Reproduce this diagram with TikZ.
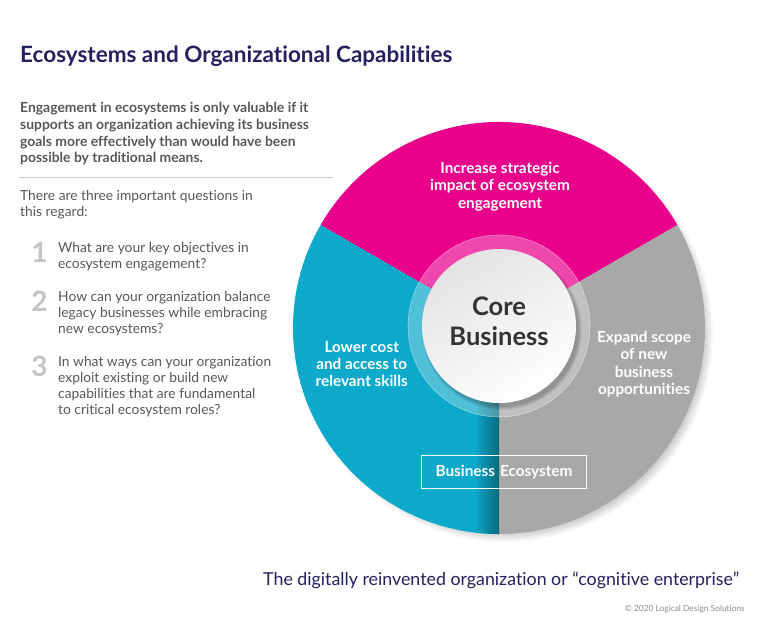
\documentclass[tikz,border=0pt]{standalone}
\usepackage{fontspec}
\setmainfont{Lato}[Ligatures={NoCommon}]
\usetikzlibrary{positioning}
\definecolor{titlenavy}{RGB}{36,33,96}
\definecolor{bodygrey}{RGB}{88,88,88}
\definecolor{numgrey}{RGB}{196,196,196}
\definecolor{rulegrey}{RGB}{204,204,204}
\definecolor{segmagenta}{RGB}{233,0,139}
\definecolor{segcyan}{RGB}{12,169,202}
\definecolor{seggrey}{RGB}{168,168,168}
\definecolor{coreink}{RGB}{51,51,51}
\definecolor{creditgrey}{RGB}{140,140,140}
\tikzset{
  heading/.style={anchor=base west,inner sep=0pt,text=titlenavy,
                  font=\fontsize{22.5}{26}\selectfont\bfseries},
  lead/.style={anchor=north west,inner sep=0pt,align=left,text=bodygrey,
               font=\fontsize{13.9}{16.6}\selectfont\bfseries},
  intro/.style={lead,font=\fontsize{13.8}{16.2}\selectfont},
  question/.style={intro},
  qnum/.style={anchor=base,inner sep=0pt,text=numgrey,
               font=\fontsize{28}{30}\selectfont\bfseries},
  segtext/.style={anchor=north,inner sep=0pt,align=center,text=white,
                  font=\fontsize{15.3}{17.3}\selectfont\bfseries},
  corebox/.style={circle,minimum size=154pt,inner sep=0pt,
                  shading=axis,top color=black!11,bottom color=white,shading angle=30},
  corelabel/.style={inner sep=0pt,align=center,text=coreink,
                    font=\fontsize{25.5}{30}\selectfont\bfseries},
  ecolabel/.style={draw=white,line width=1pt,minimum width=165pt,minimum height=33pt,
                   inner sep=0pt,text=white,font=\fontsize{15.3}{16}\selectfont\bfseries},
  tagline/.style={anchor=base west,inner sep=0pt,text=titlenavy,
                  font=\fontsize{17.8}{20}\selectfont},
  credit/.style={anchor=base east,inner sep=0pt,text=creditgrey,
                 font=\fontsize{8.4}{10}\selectfont},
}
\begin{document}
\begin{tikzpicture}[x=1pt,y=-1pt]
  \path[use as bounding box,fill=white] (0,0) rectangle (779,638);

  % left column
  \node[heading] (title) at (20,62.5) {Ecosystems and Organizational Capabilities};
  \node[lead] (lead) at (20,102.3)
    {Engagement in ecosystems is only valuable if it\\
     supports an organization achieving its business\\
     goals more effectively than would have been\\
     possible by traditional means.};
  \draw[rulegrey,line width=0.8pt] (19,177) -- (333,177);
  \node[intro] (intro) at (20,190)
    {There are three important questions in\\this regard:};
  \foreach \n/\yy in {1/262.7,2/311.7,3/376.7}{
    \node[qnum] (n\n) at (39.5,\yy) {\n};
  }
  \node[question] (q1) at (58,241.7)
    {What are your key objectives in\\ecosystem engagement?};
  \node[question] (q2) at (58,290.7)
    {How can your organization balance\\legacy businesses while embracing\\new ecosystems?};
  \node[question] (q3) at (58,356)
    {In what ways can your organization\\exploit existing or build new\\
     capabilities that are fundamental\\to critical ecosystem roles?};

  % wheel
  \coordinate (hub) at (499,328);
  \foreach \k in {0,...,9}{
    \fill[black,opacity=0.025] (505,334) circle ({208-\k*1.2});
  }
  \fill[segmagenta] (hub) -- ++(-30:206) arc[start angle=-30,end angle=-150,radius=206] -- cycle;
  \fill[segcyan] (hub) -- ++(-150:206) arc[start angle=-150,end angle=-270,radius=206] -- cycle;
  \fill[seggrey] (hub) -- ++(90:206) arc[start angle=90,end angle=-30,radius=206] -- cycle;
  \begin{scope}
    \clip (hub) -- ++(-150:206) arc[start angle=-150,end angle=-270,radius=206] -- cycle;
    \shade[left color=segcyan,right color=segcyan!62!black] (474,380) rectangle (499,540);
  \end{scope}
  \fill[white,opacity=0.28] (499,326) circle (91);
  \draw[white,opacity=0.45,line width=0.6pt] (499,326) circle (91);
  \foreach \k in {0,...,6}{
    \fill[black,opacity=0.035] (502,330) circle ({80-\k*0.6});
  }
  \node[corebox] (core) at (499,326) {};
  \node[corelabel] (corename) at ([yshift=5pt]core.center) {Core\\Business};

  \node[segtext] (strategic) at (500,162)
    {Increase strategic\\impact of ecosystem\\engagement};
  \node[segtext] (skills) at (361.7,341)
    {Lower cost\\and access to\\relevant skills};
  \node[segtext] (scope) at (644,331)
    {Expand scope\\of new\\business\\opportunities};
  \node[ecolabel] (eco) at (504,472.4) {Business\hspace{5pt}Ecosystem};

  % footer
  \node[tagline] (tag) at (263,585)
    {The digitally reinvented organization or “cognitive enterprise”};
  \node[credit] (credit) at (745,611) {© 2020 Logical Design Solutions};
\end{tikzpicture}
\end{document}
